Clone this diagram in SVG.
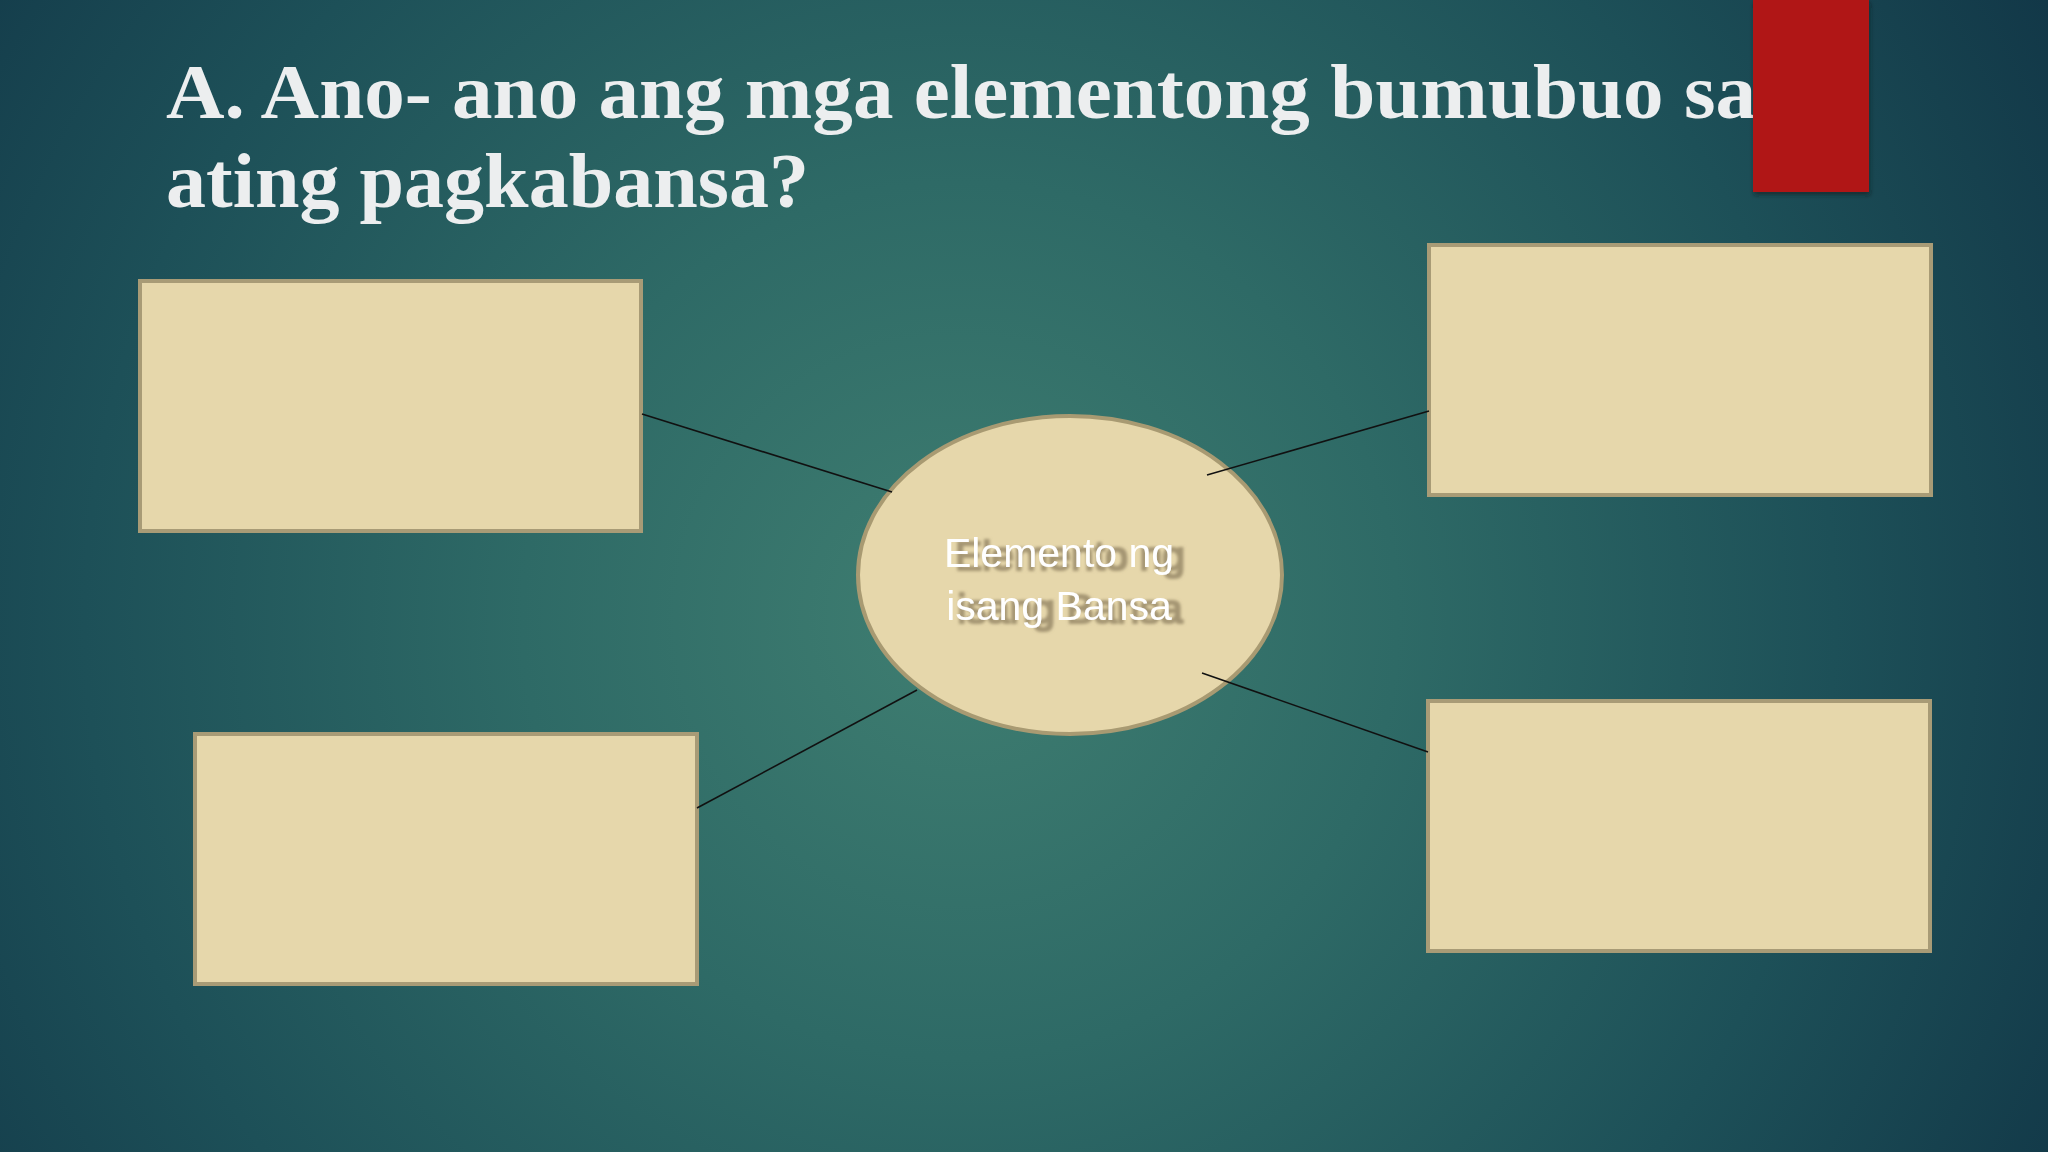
<svg xmlns="http://www.w3.org/2000/svg" width="2048" height="1152" viewBox="0 0 2048 1152">
  <defs>
    <radialGradient id="bg" cx="960" cy="620" r="1250" gradientUnits="userSpaceOnUse">
      <stop offset="0" stop-color="#3f7e71"/>
      <stop offset="0.35" stop-color="#2e6a66"/>
      <stop offset="0.7" stop-color="#1d5058"/>
      <stop offset="1" stop-color="#123848"/>
    </radialGradient>
    <filter id="txtshadow" x="-10%" y="-30%" width="130%" height="160%">
      <feMorphology in="SourceAlpha" operator="dilate" radius="0.8" result="thick"/>
      <feOffset in="thick" dx="11" dy="3" result="off"/>
      <feGaussianBlur in="off" stdDeviation="1.6" result="blur"/>
      <feFlood flood-color="#8f8060" flood-opacity="0.75"/>
      <feComposite in2="blur" operator="in" result="shadow"/>
      <feMerge>
        <feMergeNode in="shadow"/>
        <feMergeNode in="SourceGraphic"/>
      </feMerge>
    </filter>
    <filter id="drop" x="-10%" y="-10%" width="130%" height="130%">
      <feDropShadow dx="1" dy="3" stdDeviation="2" flood-color="#0a1a20" flood-opacity="0.6"/>
    </filter>
  </defs>
  <style>
    .title { font-family: "Liberation Serif", "Times New Roman", serif; font-weight: bold; font-size: 78px; fill: #eceeef; }
    .box { fill: #e6d7ab; stroke: #a89b76; stroke-width: 4; }
    .conn { stroke: #111; stroke-width: 1.6; fill: none; }
    .lbl { font-family: "Liberation Sans", Arial, sans-serif; font-size: 41px; fill: #ffffff; text-anchor: middle; }
  </style>

  <rect x="0" y="0" width="2048" height="1152" fill="url(#bg)"/>

  <g id="title">
    <text class="title" x="166" y="118" textLength="1590" lengthAdjust="spacingAndGlyphs">A. Ano- ano ang mga elementong bumubuo sa</text>
    <text class="title" x="166" y="207" textLength="643" lengthAdjust="spacingAndGlyphs">ating pagkabansa?</text>
  </g>

  <g id="red-bar">
    <rect x="1753" y="0" width="116" height="192" fill="#b01916" filter="url(#drop)"/>
  </g>

  <g id="box-top-left">
    <rect class="box" x="140" y="281" width="501" height="250"/>
  </g>
  <g id="box-top-right">
    <rect class="box" x="1429" y="245" width="502" height="250"/>
  </g>
  <g id="box-bottom-left">
    <rect class="box" x="195" y="734" width="502" height="250"/>
  </g>
  <g id="box-bottom-right">
    <rect class="box" x="1428" y="701" width="502" height="250"/>
  </g>

  <g id="center">
    <ellipse cx="1070" cy="575" rx="212" ry="159" fill="#e6d7ab" stroke="#a89a72" stroke-width="4"/>
    <text class="lbl" filter="url(#txtshadow)"><tspan x="1059" y="567">Elemento ng</tspan><tspan x="1059" y="620">isang Bansa</tspan></text>
  </g>

  <g id="connectors">
    <line class="conn" x1="642" y1="414" x2="892" y2="492"/>
    <line class="conn" x1="1207" y1="475" x2="1429" y2="411"/>
    <line class="conn" x1="697" y1="808" x2="917" y2="690"/>
    <line class="conn" x1="1202" y1="673" x2="1428" y2="752"/>
  </g>
</svg>
